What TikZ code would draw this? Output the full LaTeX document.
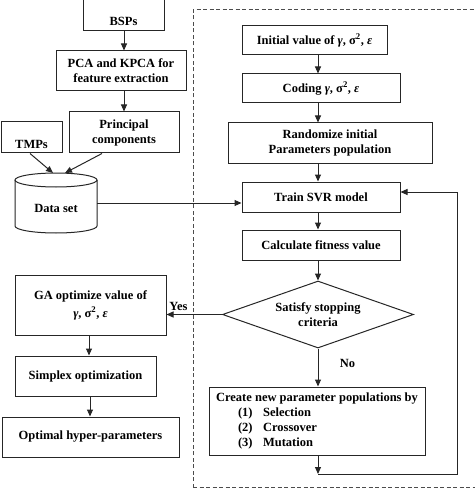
\documentclass[tikz,border=0pt]{standalone}
\usepackage{fontspec}
\setmainfont{Liberation Serif}
\usetikzlibrary{arrows.meta,shapes.geometric,calc}
\begin{document}
\begin{tikzpicture}[x=1pt,y=-1pt,
  every node/.style={font=\bfseries\fontsize{12.5}{15}\selectfont},
  box/.style={draw=black!85, line width=1pt, rectangle, inner sep=2pt, align=center},
  arr/.style={draw=black!85, line width=1pt, -{Triangle[length=7pt,width=6pt]}},
  ln/.style={draw=black!85, line width=1pt},
  frame/.style={draw=black!70, line width=1pt, dash pattern=on 4pt off 2.5pt}]
\useasboundingbox (0,0) rectangle (474,489);

% dashed frame
\draw[frame] (193,487.5) -- (193,10) -- (480,10);
\draw[frame] (193,487.5) -- (480,487.5);

% left column
\node[box, minimum width=81pt, minimum height=42pt, inner sep=0pt, text height=31pt, text depth=0pt] (bsp) at (123.5,10) {BSPs};
\node[box, minimum width=130pt, minimum height=40pt] (pca) at (121,71) {PCA and KPCA for\\feature extraction};
\node[box, minimum width=110pt, minimum height=41pt] (pc) at (124,132.5) {Principal\\components};
\node[box, minimum width=61pt, minimum height=31pt, inner sep=0pt, text height=22pt, text depth=0pt] (tmp) at (31.5,137.5) {TMPs};

% data set cylinder
\draw[ln, fill=white] (15,180) -- (15,226) arc[start angle=180, end angle=360, x radius=41pt, y radius=7pt] -- (97,180);
\draw[ln] (56,180) ellipse [x radius=41pt, y radius=7pt];
\node (ds) at (56,208) {Data set};
\coordinate (dsa) at (53,173);
\coordinate (dsb) at (65,173);
\coordinate (dsr) at (97,203);

\draw[arr] (bsp.south -| 124,0) -- (pca.north -| 124,0);
\draw[arr] (pca.south -| 124,0) -- (pc.north -| 124,0);
\draw[arr] (tmp.south -| 30,0) -- (dsa);
\draw[arr] (pc.south -| 102,0) -- (dsb);

% right column
\node[box, minimum width=145pt, minimum height=29pt] (init) at (314.5,40.5) {Initial value of \textit{γ}, σ\textsuperscript{2}, \textit{ε}};
\node[box, minimum width=158pt, minimum height=29pt] (cod) at (321,88.5) {Coding \textit{γ}, σ\textsuperscript{2}, \textit{ε}};
\node[box, minimum width=204pt, minimum height=40pt] (rnd) at (330,143) {Randomize initial\\Parameters population};
\node[box, minimum width=158pt, minimum height=30pt] (svr) at (321,197) {Train SVR model};
\node[box, minimum width=158pt, minimum height=30pt] (fit) at (321,245) {Calculate fitness value};
\node[draw=black!85, line width=1pt, diamond, aspect=2.85, inner sep=0pt, minimum width=191pt, minimum height=67pt, align=center] (stop) at (318,314.5) {Satisfy stopping\\criteria};
\node[box, minimum width=216pt, minimum height=68pt, align=left] (new) at (317,421)
  {Create new parameter populations by\\
   \hspace*{22pt}\makebox[25pt][l]{(1)}Selection\\
   \hspace*{22pt}\makebox[25pt][l]{(2)}Crossover\\
   \hspace*{22pt}\makebox[25pt][l]{(3)}Mutation};

\draw[arr] (init.south -| stop.north) -- (cod.north -| stop.north);
\draw[arr] (cod.south -| stop.north) -- (rnd.north -| stop.north);
\draw[arr] (rnd.south -| stop.north) -- (svr.north -| stop.north);
\draw[arr] (svr.south -| stop.north) -- (fit.north -| stop.north);
\draw[arr] (fit.south -| stop.north) -- (stop.north);
\draw[arr] (stop.south) -- (new.north -| stop.south) node[pos=0.4, right=18pt] (no) {No};

\draw[arr] (dsr) -- (dsr -| svr.west);

\coordinate (lp) at (318,474);
\coordinate (rp) at (457,192);
\draw[arr] (new.south -| lp) -- (lp);
\draw[arr] (lp) -| (rp) -- (rp -| svr.east);

% lower left column
\node[box, minimum width=151pt, minimum height=60pt] (ga) at (90.5,305) {GA optimize value of\\[3pt]\textit{γ}, σ\textsuperscript{2}, \textit{ε}};
\node[box, minimum width=141pt, minimum height=40pt] (spx) at (85.5,376) {Simplex optimization};
\node[box, minimum width=177pt, minimum height=40pt] (opt) at (90.5,437) {Optimal hyper-parameters};

\draw[arr] (stop.west) -- (stop.west -| ga.east);
\node (yes) at (178.5,306) {Yes};
\draw[arr] (ga.south -| 89,0) -- (spx.north -| 89,0);
\draw[arr] (spx.south -| 90,0) -- (opt.north -| 90,0);
\end{tikzpicture}
\end{document}
